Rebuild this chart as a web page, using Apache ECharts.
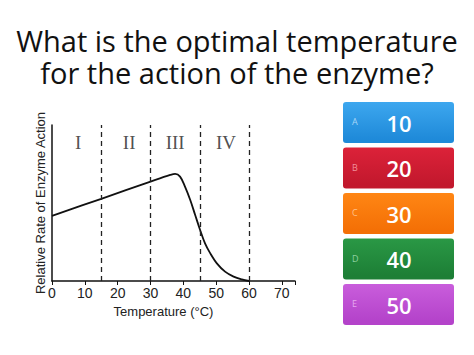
<!DOCTYPE html>
<html>
<head>
<meta charset="utf-8">
<script src="https://cdn.jsdelivr.net/npm/echarts@6/dist/echarts.min.js"></script>
<style>
html,body{margin:0;padding:0;background:#fff;}
#c{width:474px;height:355px;}
</style>
</head>
<body>
<div id="c"></div>
<script>
// Data
const titleLines = ['What is the optimal temperature', 'for the action of the enzyme?'];
const temps = [0, 15, 30, 36, 37.5, 39, 40.5, 42.1, 43.6, 45.1, 46.6, 48.2, 50.2, 52.7, 55.3, 57.8, 60];
const rates = [4.18, 5.27, 6.37, 6.8, 6.87, 6.69, 6.05, 5.19, 4.23, 3.27, 2.41, 1.77, 1.13, 0.6, 0.28, 0.1, 0];
const boundaries = [15, 30, 45, 60];
const regionNames = ['I', 'II', 'III', 'IV'];
const regionX = [8, 23.5, 37.5, 53];
const regionY = 8.9;
const answerLetters = ['A', 'B', 'C', 'D', 'E'];
const answerValues = ['10', '20', '30', '40', '50'];
const answerColors = [['#3da7ef', '#1f8ad9'], ['#dc2239', '#c2182d'], ['#ff8614', '#f47006'], ['#2a9845', '#1d7f36'], ['#c95ddc', '#b443ca']];
const answerLetterColors = ['#a8d6f7', '#f08e9a', '#ffc08a', '#8fd0a0', '#e6a8f0'];

const chart = echarts.init(document.getElementById('c'), null, {renderer: 'svg'});

const graphics = [];
answerLetters.forEach((l, i) => {
  const top = 102 + i * 45.5;
  graphics.push({
    type: 'rect', left: 343, top: top, z: 10,
    shape: {width: 111, height: 41, r: 3},
    style: {fill: new echarts.graphic.LinearGradient(0, 0, 0, 1, [
      {offset: 0, color: answerColors[i][0]}, {offset: 0.9, color: answerColors[i][1]}, {offset: 1, color: answerColors[i][1]}
    ])}
  });
  graphics.push({
    type: 'text', left: 352, top: top + 15, z: 11,
    style: {text: l, fill: answerLetterColors[i], font: '9px "Open Sans"'}
  });
  graphics.push({
    type: 'text', x: 399, y: top + 20.5, z: 11,
    style: {text: answerValues[i], fill: '#fff', font: '600 22px "Open Sans"', textAlign: 'center', textVerticalAlign: 'middle'}
  });
});

const titleStyle = {fontFamily: 'Open Sans', fontSize: 29, fontWeight: 'normal', color: '#111'};

chart.setOption({
  animation: false,
  backgroundColor: '#fff',
  title: [
    {text: titleLines[0], left: 'center', top: 26, padding: 0, textStyle: titleStyle},
    {text: titleLines[1], left: 'center', top: 58, padding: 0, textStyle: titleStyle}
  ],
  grid: {left: 52, top: 125, right: 179, bottom: 74},
  xAxis: {
    type: 'value', min: 0, max: 74, interval: 10,
    name: 'Temperature (°C)', nameLocation: 'middle', nameGap: 24,
    nameTextStyle: {fontFamily: 'Liberation Sans', fontSize: 13, color: '#222', padding: [0, 20, 0, 0]},
    axisLine: {lineStyle: {color: '#111', width: 1.5}},
    axisTick: {show: true, length: 4, lineStyle: {color: '#111'}},
    axisLabel: {fontFamily: 'Liberation Sans', fontSize: 14, color: '#222', margin: 5,
      formatter: v => v <= 70 ? String(v) : ''},
    splitLine: {show: false}
  },
  yAxis: {
    type: 'value', min: 0, max: 10,
    name: 'Relative Rate of Enzyme Action', nameLocation: 'middle', nameGap: 5,
    nameTextStyle: {fontFamily: 'Liberation Sans', fontSize: 13, color: '#222'},
    axisLine: {show: true, lineStyle: {color: '#111', width: 1.5}},
    axisTick: {show: false}, axisLabel: {show: false}, splitLine: {show: false}
  },
  graphic: graphics,
  series: [
    {
      type: 'line', data: temps.map((t, i) => [t, rates[i]]), smooth: 0.35,
      showSymbol: false, lineStyle: {color: '#111', width: 1.8},
      markLine: {
        silent: true, symbol: 'none', label: {show: false},
        lineStyle: {color: '#222', type: [5, 4], width: 1.3},
        data: boundaries.map(b => ({xAxis: b}))
      }
    },
    {
      type: 'scatter', symbolSize: 0,
      data: regionX.map((x, i) => ({value: [x, regionY], name: regionNames[i]})),
      label: {show: true, position: 'inside', formatter: p => p.name,
        fontFamily: 'Liberation Serif', fontSize: 19, color: '#222'}
    }
  ]
});
</script>
</body>
</html>
